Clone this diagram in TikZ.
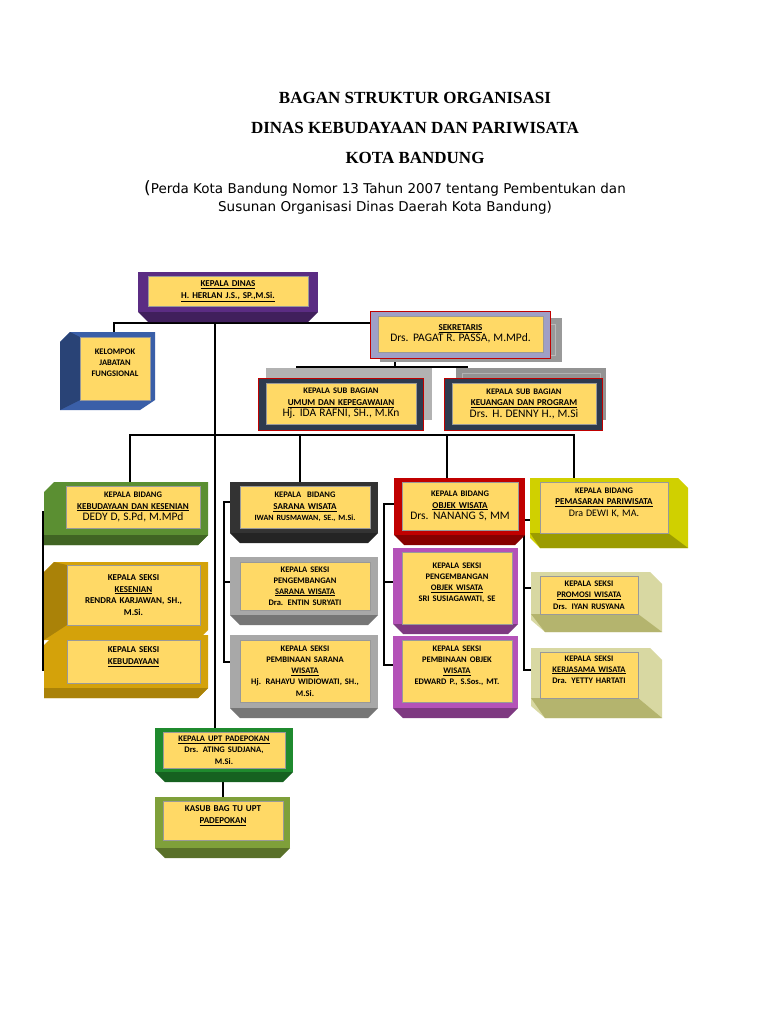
\documentclass[tikz,border=0pt]{standalone}
\usepackage{fontspec}
\setmainfont{Liberation Serif}
\newfontfamily\carfont{Carlito}
\newfontfamily\verd{DejaVu Sans}
\definecolor{yel}{HTML}{FFD966}
\definecolor{purp}{HTML}{5B2C83}
\definecolor{blu}{HTML}{3A5FA8}
\definecolor{grn}{HTML}{5B8F32}
\definecolor{gold}{HTML}{D4A20A}
\definecolor{blk}{HTML}{333333}
\definecolor{gry}{HTML}{A8A8A8}
\definecolor{redb}{HTML}{C00000}
\definecolor{mag}{HTML}{B452B8}
\definecolor{lime}{HTML}{D0D000}
\definecolor{olv}{HTML}{C8C87A}
\definecolor{dgrn}{HTML}{1F8A2E}
\definecolor{ogrn}{HTML}{7FA03A}
\definecolor{navy}{HTML}{2E3A4E}
\tikzset{inbox/.style={fill=yel,draw=black!40,line width=0.4pt,inner sep=1pt,align=center,font=\carfont\bfseries\fontsize{9}{11.5}\selectfont},
 conn/.style={line width=1.5pt,black}}
\newcommand\ob[5]{% x1 y1 x2 y2 colour
 \fill[#5] (#1,#2) rectangle (#3,#4-10);
 \fill[#5!70!black] (#1,#4-10) -- (#3,#4-10) -- (#3-10,#4) -- (#1+10,#4) -- cycle;}
\newcommand\ib[6]{% name x1 y1 x2 y2 text
 \pgfmathsetmacro\cx{(#2+#4)/2}\pgfmathsetmacro\cy{(#3+#5)/2}
 \pgfmathsetmacro\ww{#4-#2}\pgfmathsetmacro\hh{#5-#3}
 \node[inbox,minimum width=\ww pt,minimum height=\hh pt,text width=\ww pt-4pt] (#1) at (\cx,\cy) {#6};}
\newcommand\U[1]{\underline{#1}}
\newcommand\sm{\fontsize{8.5}{11}\selectfont}
\newcommand\bg{\fontsize{11.5}{14}\selectfont\mdseries}
\begin{document}
\begin{tikzpicture}[x=1pt,y=-1pt]
\useasboundingbox[fill=white] (0,0) rectangle (768,1024);
% titles
\node[font=\bfseries\fontsize{17}{20}\selectfont] (t1) at (415,98) {BAGAN STRUKTUR ORGANISASI};
\node[font=\bfseries\fontsize{17}{20}\selectfont] (t2) at (415,128) {DINAS KEBUDAYAAN DAN PARIWISATA};
\node[font=\bfseries\fontsize{17}{20}\selectfont] (t3) at (415,158) {KOTA BANDUNG};
\node[font=\verd\fontsize{13.5}{18}\selectfont,align=center] (t4) at (385,197) {{\fontsize{17}{18}\selectfont(}Perda Kota Bandung Nomor 13 Tahun 2007 tentang Pembentukan dan\\Susunan Organisasi Dinas Daerah Kota Bandung)};
% connectors (behind)
\coordinate (mtop) at (215,306);
\coordinate (mbot) at (215,728);
\draw[conn] (mtop) -- (mbot);
\coordinate (ka) at (114,323); \coordinate (kb) at (370,323);
\draw[conn] (114,332) -- (ka) -- (kb);
\draw[conn] (395,358) -- (395,367);
\draw[conn] (297,378) -- (297,367) -- (467,367) -- (467,378);
\draw[conn] (130,482) -- (130,435) -- (574,435) -- (574,478);
\draw[conn] (300,435) -- (300,482);
\draw[conn] (447,435) -- (447,478);
\draw[conn] (54,512) -- (43,512) -- (43,670) -- (54,670); \draw[conn] (43,590) -- (54,590);
\draw[conn] (230,502) -- (224,502) -- (224,662) -- (230,662); \draw[conn] (224,582) -- (230,582);
\draw[conn] (394,504) -- (384,504) -- (384,665) -- (393,665); \draw[conn] (384,582) -- (393,582);
\draw[conn] (540,520) -- (524,520) -- (524,670) -- (531,670); \draw[conn] (524,588) -- (531,588);
\draw[conn] (223,782) -- (223,797);
% kepala dinas
\ob{138}{272}{318}{322}{purp}
\ib{kd}{148}{276}{308}{306}{\U{KEPALA DINAS}\\\U{H. HERLAN J.S., SP.,M.Si.}}
% kelompok
\fill[blu] (70,332) -- (155,332) -- (155,400) -- (140,410) -- (60,410) -- (60,342) -- cycle;
\fill[blu!70!black] (60,342) -- (70,332) -- (80,337) -- (80,400) -- (60,410) -- cycle;
\ib{kel}{80}{337}{150}{400}{{\sm KELOMPOK\\JABATAN\\FUNGSIONAL}\\~}
% sekretaris
\fill[gray!80] (380,318) rectangle (562,362);
\draw[gray!55] (388,324) rectangle (555,355);
\fill[gray!75!blue!60] (370,311) rectangle (550,358); \draw[redb,line width=0.8pt] (370,311) rectangle (550,358);
\ib{sek}{378}{316}{543}{352}{\U{SEKRETARIS}\\{\bg Drs. PAGAT R. PASSA, M.MPd.}}
% sub bagian
\fill[gray!60] (266,368) rectangle (432,420);
\fill[navy] (258,378) rectangle (423,430); \draw[redb,line width=0.8pt] (258,378) rectangle (423,430);
\ib{sb1}{266}{383}{416}{424}{{\sm KEPALA SUB BAGIAN}\\\U{UMUM DAN KEPEGAWAIAN}\\{\bg Hj. IDA RAFNI, SH., M.Kn}}
\fill[gray!85] (456,368) rectangle (606,420); \draw[gray!60] (462,373) rectangle (600,414);
\fill[navy] (444,378) rectangle (602,430); \draw[redb,line width=0.8pt] (444,378) rectangle (602,430);
\ib{sb2}{452}{383}{596}{424}{{\sm KEPALA SUB BAGIAN}\\\U{KEUANGAN DAN PROGRAM}\\{\bg Drs. H. DENNY H., M.Si}}
% bidang kebudayaan
\fill[grn] (54,482) -- (208,482) -- (208,535) -- (198,545) -- (44,545) -- (44,492) -- cycle;
\fill[grn!70!black] (44,535) -- (208,535) -- (198,545) -- (44,545) -- cycle;
\ib{bk}{66}{486}{200}{528}{{\sm KEPALA BIDANG}\\\U{KEBUDAYAAN DAN KESENIAN}\\{\bg DEDY D, S.Pd, M.MPd}}
\fill[gold] (54,562) -- (208,562) -- (208,630) -- (198,640) -- (44,640) -- (44,572) -- cycle;
\fill[gold!80!black] (44,572) -- (54,562) -- (67,565) -- (67,625) -- (44,640) -- cycle;
\ib{sk1}{67}{565}{200}{625}{KEPALA SEKSI\\\U{KESENIAN}\\RENDRA KARJAWAN, SH.,\\M.Si.}
\fill[gold] (54,635) -- (208,635) -- (208,688) -- (198,698) -- (44,698) -- (44,645) -- cycle;
\fill[gold!80!black] (44,688) -- (208,688) -- (198,698) -- (44,698) -- cycle;
\ib{sk2}{67}{640}{200}{683}{KEPALA SEKSI\\\U{KEBUDAYAAN}\\~}
% sarana
\ob{230}{482}{378}{543}{blk}
\ib{bs}{240}{486}{370}{528}{{\sm KEPALA \ BIDANG}\\\U{SARANA WISATA}\\{\fontsize{8}{10}\selectfont IWAN RUSMAWAN, SE., M.Si.}}
\ob{230}{557}{378}{625}{gry}
\ib{ss1}{240}{562}{370}{610}{{\sm KEPALA SEKSI\\PENGEMBANGAN\\\U{SARANA WISATA}\\Dra. ENTIN SURYATI}}
\ob{230}{635}{378}{718}{gry}
\ib{ss2}{240}{640}{370}{702}{{\sm KEPALA SEKSI\\PEMBINAAN SARANA\\\U{WISATA}\\Hj. RAHAYU WIDIOWATI, SH.,\\M.Si.}}
% objek
\ob{394}{478}{525}{545}{redb}
\ib{bo}{402}{482}{518}{530}{{\sm KEPALA BIDANG}\\\U{OBJEK WISATA}\\{\bg Drs. NANANG S, MM}}
\ob{393}{548}{518}{634}{mag}
\ib{so1}{402}{552}{512}{624}{{\sm KEPALA SEKSI\\PENGEMBANGAN\\\U{OBJEK WISATA}\\SRI SUSIAGAWATI, SE\\~}}
\ob{393}{636}{518}{718}{mag}
\ib{so2}{402}{640}{512}{702}{{\sm KEPALA SEKSI\\PEMBINAAN OBJEK\\\U{WISATA}\\EDWARD P., S.Sos., MT.\\~}}
% pemasaran
\fill[lime] (530,478) -- (678,478) -- (688,488) -- (688,548) -- (540,548) -- (530,538) -- cycle;
\fill[lime!75!black] (530,533) -- (668,533) -- (688,548) -- (540,548) -- cycle;
\ib{bp}{540}{482}{668}{533}{{\sm KEPALA BIDANG}\\\U{PEMASARAN PARIWISATA}\\{\mdseries\fontsize{10}{12}\selectfont Dra DEWI K, MA.}\\~}
\fill[olv!70] (531,572) -- (650,572) -- (662,584) -- (662,632) -- (545,632) -- (531,620) -- cycle;
\fill[olv!90!black] (531,614) -- (638,614) -- (662,632) -- (545,632) -- cycle;
\ib{sp1}{540}{576}{638}{614}{{\sm KEPALA SEKSI\\\U{PROMOSI WISATA}\\Drs. IYAN RUSYANA}}
\fill[olv!70] (531,648) -- (650,648) -- (662,660) -- (662,718) -- (545,718) -- (531,706) -- cycle;
\fill[olv!90!black] (531,698) -- (638,698) -- (662,718) -- (545,718) -- cycle;
\ib{sp2}{540}{652}{638}{698}{{\sm KEPALA SEKSI\\\U{KERJASAMA WISATA}\\Dra. YETTY HARTATI\\~}}
% UPT
\ob{155}{728}{293}{782}{dgrn}
\ib{upt}{163}{732}{285}{768}{{\sm\U{KEPALA UPT PADEPOKAN}\\Drs. ATING SUDJANA,\\M.Si.}}
\ob{155}{797}{290}{858}{ogrn}
\ib{tu}{163}{801}{283}{840}{KASUB BAG TU UPT\\\U{PADEPOKAN}\\~}
\end{tikzpicture}
\end{document}
